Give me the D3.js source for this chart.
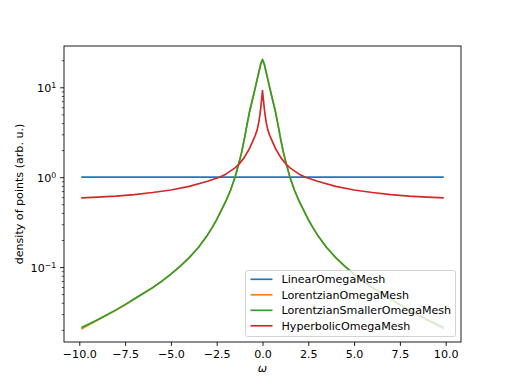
<!DOCTYPE html>
<html>
<head>
<meta charset="utf-8">
<script src="https://cdn.jsdelivr.net/npm/d3@7"></script>
<style>
  body { margin: 0; background: #fff; }
  text { font-family: "DejaVu Sans", sans-serif; fill: #000; }
</style>
</head>
<body>
<svg id="chart" width="512" height="384"></svg>
<script>
// values
const seriesNames = ["LinearOmegaMesh", "LorentzianOmegaMesh", "LorentzianSmallerOmegaMesh", "HyperbolicOmegaMesh"];
const colors = ["#1f77b4", "#ff7f0e", "#2ca02c", "#d62728"];

const linearOmega = [-9.85, 9.85];
const linearDensity = [1, 1];

const lorentzOmega = [-9.85, -9, -8, -7.5, -6.9, -6, -5.5, -5, -4.5, -4, -3.5, -3, -2.75, -2.5, -2.25, -2, -1.75, -1.5, -1.3, -1.15,
  -1, -0.85, -0.72, -0.6, -0.5, -0.4, -0.3, -0.2, -0.1, 0,
  0.1, 0.2, 0.3, 0.4, 0.5, 0.6, 0.72, 0.85, 1,
  1.15, 1.3, 1.5, 1.75, 2, 2.25, 2.5, 2.75, 3, 3.5, 4, 4.5, 5, 5.5, 6, 6.9, 7.5, 8, 9, 9.85];
const lorentzDensity = [0.0207, 0.0257, 0.0331, 0.0380, 0.0452, 0.0589, 0.0694, 0.0832, 0.1018, 0.1272, 0.165, 0.228, 0.275, 0.337, 0.427, 0.54, 0.71, 1.0, 1.40, 1.85,
  2.6, 3.8, 5.2, 6.6, 8.0, 9.8, 12.0, 14.7, 18.0, 20.4,
  18.0, 14.7, 12.0, 9.8, 8.0, 6.6, 5.2, 3.8, 2.6,
  1.85, 1.40, 1.0, 0.71, 0.54, 0.427, 0.337, 0.275, 0.228, 0.165, 0.1272, 0.1018, 0.0832, 0.0694, 0.0589, 0.0452, 0.0380, 0.0331, 0.0257, 0.0208];
const smallerDensity = [0.0214, 0.0260, 0.0334, 0.0382, 0.0455, 0.0591, 0.0696, 0.0835, 0.102, 0.1275, 0.165, 0.228, 0.275, 0.337, 0.427, 0.54, 0.71, 1.0, 1.40, 1.85,
  2.6, 3.8, 5.2, 6.6, 8.0, 9.8, 12.0, 14.7, 18.0, 20.4,
  18.0, 14.7, 12.0, 9.8, 8.0, 6.6, 5.2, 3.8, 2.6,
  1.85, 1.40, 1.0, 0.71, 0.54, 0.427, 0.337, 0.275, 0.228, 0.165, 0.1275, 0.102, 0.0835, 0.0696, 0.0591, 0.0455, 0.0382, 0.0334, 0.0260, 0.0214];

const hyperOmega = [-9.85, -9, -8, -7, -6, -5, -4, -3, -2.35, -2, -1.5, -1.25, -1, -0.7, -0.5, -0.4, -0.3, -0.2, -0.15, -0.1, -0.05, 0,
  0.05, 0.1, 0.15, 0.2, 0.3, 0.4, 0.5, 0.7, 1, 1.25, 1.5, 2, 2.35, 3, 4, 5, 6, 7, 8, 9, 9.85];
const hyperDensity = [0.59, 0.60, 0.615, 0.64, 0.675, 0.72, 0.79, 0.9, 1.0, 1.08, 1.27, 1.42, 1.65, 2.1, 2.6, 2.9, 3.3, 4.1, 4.8, 5.8, 7.2, 9.2,
  7.2, 5.8, 4.8, 4.1, 3.3, 2.9, 2.6, 2.1, 1.65, 1.42, 1.27, 1.08, 1.0, 0.9, 0.79, 0.72, 0.675, 0.64, 0.615, 0.60, 0.59];

const xTicks = [-10, -7.5, -5, -2.5, 0, 2.5, 5, 7.5, 10];
const yTicks = [0.1, 1, 10];

const series = [
  { name: seriesNames[0], xs: linearOmega, ys: linearDensity },
  { name: seriesNames[1], xs: lorentzOmega, ys: lorentzDensity },
  { name: seriesNames[2], xs: lorentzOmega, ys: smallerDensity },
  { name: seriesNames[3], xs: hyperOmega, ys: hyperDensity },
];

const svg = d3.select("#chart");
const margins = { top: 46, right: 51, bottom: 42, left: 64 };
const width = 512, height = 384;
const fs = 11.1;

// matplotlib style 5% margins
const allX = series.flatMap((s) => s.xs);
const allY = series.flatMap((s) => s.ys);
const [x0, x1] = d3.extent(allX);
const xPad = (x1 - x0) * 0.05;
const ly0 = Math.log10(d3.min(allY)), ly1 = Math.log10(d3.max(allY));
const yPad = (ly1 - ly0) * 0.05;

const x = d3.scaleLinear()
  .domain([x0 - xPad, x1 + xPad])
  .range([margins.left, width - margins.right]);

const y = d3.scaleLog()
  .domain([Math.pow(10, ly0 - yPad), Math.pow(10, ly1 + yPad)])
  .range([height - margins.bottom, margins.top]);

const line = d3.line().x((d) => x(d[0])).y((d) => y(d[1]));

svg.append("rect")
  .attr("x", margins.left).attr("y", margins.top)
  .attr("width", width - margins.left - margins.right)
  .attr("height", height - margins.top - margins.bottom)
  .attr("fill", "#fff");

series.forEach((s, i) => {
  svg.append("path")
    .datum(s.xs.map((v, j) => [v, s.ys[j]]))
    .attr("fill", "none")
    .attr("stroke", colors[i])
    .attr("stroke-width", 1.67)
    .attr("stroke-linejoin", "round")
    .attr("stroke-linecap", "square")
    .attr("d", line);
});

// x axis
const xAxis = svg.append("g")
  .attr("transform", `translate(0,${height - margins.bottom})`)
  .call(d3.axisBottom(x).tickValues(xTicks).tickSize(3.9).tickPadding(3.9)
    .tickFormat((d) => d3.format(".1f")(d).replace("-", "\u2212")));
xAxis.select(".domain").remove();
xAxis.selectAll("line").attr("stroke", "#000").attr("stroke-width", 0.89);
xAxis.selectAll("text").attr("font-size", fs).attr("font-family", "DejaVu Sans");

// y axis: major + minor ticks
const minor = [];
for (let e = -2; e <= 1; e++) for (let m = 2; m <= 9; m++) {
  const v = m * Math.pow(10, e);
  if (v >= y.domain()[0] && v <= y.domain()[1]) minor.push(v);
}
const yMinor = svg.append("g")
  .attr("transform", `translate(${margins.left},0)`)
  .call(d3.axisLeft(y).tickValues(minor).tickSize(2.2).tickFormat(""));
yMinor.select(".domain").remove();
yMinor.selectAll("line").attr("stroke", "#000").attr("stroke-width", 0.67);

const yAxis = svg.append("g")
  .attr("transform", `translate(${margins.left},0)`)
  .call(d3.axisLeft(y).tickValues(yTicks).tickSize(3.9).tickPadding(3.9).tickFormat(""));
yAxis.select(".domain").remove();
yAxis.selectAll("line").attr("stroke", "#000").attr("stroke-width", 0.89);
yAxis.selectAll(".tick").each(function (d) {
  const t = d3.select(this).append("text")
    .attr("x", -7.8).attr("y", 4.6)
    .attr("text-anchor", "end")
    .attr("font-size", fs)
    .attr("fill", "#000");
  const ex = Math.round(Math.log10(d));
  t.append("tspan").text("10");
  t.append("tspan").attr("dy", -4.6).attr("font-size", 7.8)
    .text(String(ex).replace("-", "\u2212"));
});

// frame
svg.append("rect")
  .attr("x", margins.left).attr("y", margins.top)
  .attr("width", width - margins.left - margins.right)
  .attr("height", height - margins.top - margins.bottom)
  .attr("fill", "none").attr("stroke", "#000").attr("stroke-width", 0.89);

// labels
svg.append("text")
  .attr("x", (margins.left + width - margins.right) / 2).attr("y", 372)
  .attr("text-anchor", "middle").attr("font-size", fs).attr("font-style", "italic")
  .text("\u03c9");
svg.append("text")
  .attr("transform", `translate(23,${(margins.top + height - margins.bottom) / 2}) rotate(-90)`)
  .attr("text-anchor", "middle").attr("font-size", fs)
  .text("density of points (arb. u.)");

// legend
const lg = svg.append("g").attr("transform", "translate(245.5,270.5)");
lg.append("rect")
  .attr("width", 210).attr("height", 66).attr("rx", 2.2)
  .attr("fill", "#fff").attr("fill-opacity", 0.8)
  .attr("stroke", "#cccccc").attr("stroke-width", 0.89);
seriesNames.forEach((n, i) => {
  const cy = 8.8 + i * 15.5;
  lg.append("line").attr("x1", 5).attr("x2", 27).attr("y1", cy).attr("y2", cy)
    .attr("stroke", colors[i]).attr("stroke-width", 1.67);
  lg.append("text").attr("x", 36).attr("y", cy + 4).attr("font-size", fs).text(n);
});
</script>
</body>
</html>
